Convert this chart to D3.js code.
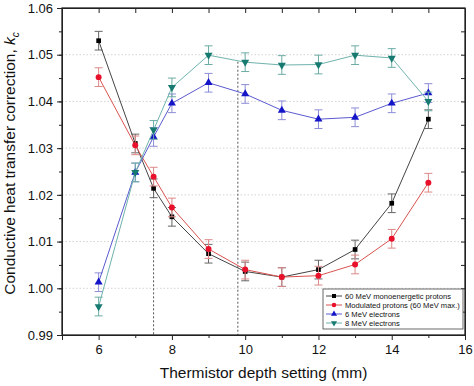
<!DOCTYPE html>
<html lang="en">
<head>
  <meta charset="UTF-8" />
  <title>Conductive heat transfer correction</title>
  <script src="https://d3js.org/d3.v7.min.js"></script>
  <style>
    body {
      margin: 0;
      padding: 0;
      background: #fff;
      font-family: Arial, "Liberation Sans", sans-serif;
    }
    .grid line {
      stroke: #c8c8c8;
      stroke-width: 0.8px;
      stroke-dasharray: 1.5 2;
    }
    .axis text {
      font-size: 13px;
      fill: #111;
    }
    .axis path, .axis line {
      stroke: #222;
    }
  </style>
</head>
<body>
  <svg width="474" height="386"></svg>

  <script>
    // depths (mm)
    const depths = [6, 7, 7.5, 8, 9, 10, 11, 12, 13, 14, 15];

    const protons60 = [1.0530, 1.0310, 1.0214, 1.0153, 1.0074, 1.0036, 1.0024, 1.0040, 1.0083, 1.0182, 1.0362];
    const modulated = [1.0452, 1.0306, 1.0239, 1.0173, 1.0084, 1.0040, 1.0024, 1.0027, 1.0051, 1.0106, 1.0226];
    const electrons6 = [1.0013, 1.0248, 1.0324, 1.0396, 1.0440, 1.0416, 1.0381, 1.0362, 1.0366, 1.0396, 1.0418];
    const electrons8 = [0.9961, 1.0248, 1.0339, 1.0430, 1.0499, 1.0484, 1.0478, 1.0479, 1.0499, 1.0493, 1.0400];
    const errBar = 0.002;

    const seriesNames = [
      "60 MeV monoenergetic protons",
      "Modulated protons (60 MeV max.)",
      "6 MeV electrons",
      "8 MeV electrons"
    ];

    const xTicks = [6, 8, 10, 12, 14, 16];
    const yTicks = [0.99, 1.00, 1.01, 1.02, 1.03, 1.04, 1.05, 1.06];

    // dashed markers: [x, top value]
    const markers = [[7.5, 1.0214], [9.8, 1.0485]];

    const svg = d3.select("svg");
    const m = { top: 8, right: 9, bottom: 51, left: 62 };
    const W = 474, H = 386;

    const x = d3.scaleLinear().domain([5, 16]).range([m.left, W - m.right]);
    const y = d3.scaleLinear().domain([0.99, 1.06]).range([H - m.bottom, m.top]);

    // grid
    svg.append("g").attr("class", "grid")
      .selectAll("line")
      .data(yTicks.slice(1, -1))
      .enter().append("line")
      .attr("x1", m.left).attr("x2", W - m.right)
      .attr("y1", d => y(d)).attr("y2", d => y(d));

    // dashed vertical markers
    svg.selectAll(".marker")
      .data(markers)
      .enter().append("line")
      .attr("x1", d => x(d[0])).attr("x2", d => x(d[0]))
      .attr("y1", d => y(d[1])).attr("y2", y(0.99))
      .attr("stroke", "#555")
      .attr("stroke-width", 1)
      .attr("stroke-dasharray", "2 2");

    const minorX = d3.range(5, 16.01, 1);
    const minorY = d3.range(0.99, 1.0601, 0.005);

    // bottom axis
    svg.append("g").attr("class", "axis")
      .attr("transform", `translate(0,${H - m.bottom})`)
      .call(d3.axisBottom(x).tickValues(xTicks).tickSize(5).tickPadding(5).tickFormat(d3.format("d")));
    svg.append("g").attr("class", "axis")
      .attr("transform", `translate(0,${H - m.bottom})`)
      .call(d3.axisBottom(x).tickValues(minorX.filter(d => !xTicks.includes(d))).tickSize(3).tickFormat(""));

    // left axis
    svg.append("g").attr("class", "axis")
      .attr("transform", `translate(${m.left},0)`)
      .call(d3.axisLeft(y).tickValues(yTicks).tickSize(5).tickPadding(4).tickFormat(d3.format(".2f")));
    svg.append("g").attr("class", "axis")
      .attr("transform", `translate(${m.left},0)`)
      .call(d3.axisLeft(y).tickValues(minorY).tickSize(3).tickFormat(""));

    // top and right (inward ticks)
    svg.append("g").attr("class", "axis")
      .attr("transform", `translate(0,${m.top})`)
      .call(d3.axisBottom(x).tickValues(minorX.filter(d => d > 5 && d < 16)).tickSize(5).tickSizeOuter(0).tickFormat(""));
    svg.append("g").attr("class", "axis")
      .attr("transform", `translate(${W - m.right},0)`)
      .call(d3.axisLeft(y).tickValues(minorY).tickSize(4).tickSizeOuter(0).tickFormat(""));

    // frame
    svg.append("rect")
      .attr("x", m.left).attr("y", m.top)
      .attr("width", W - m.left - m.right).attr("height", H - m.top - m.bottom)
      .attr("fill", "none").attr("stroke", "#222").attr("stroke-width", 1.3);

    const series = [
      { name: seriesNames[0], vals: protons60, line: "#444", mark: "#000", err: "#666", shape: d3.symbolSquare, size: 22, rot: 0 },
      { name: seriesNames[1], vals: modulated, line: "#d9534f", mark: "#e8102a", err: "#d88", shape: d3.symbolCircle, size: 28, rot: 0 },
      { name: seriesNames[2], vals: electrons6, line: "#5a5ad0", mark: "#1515c8", err: "#8c8cd8", shape: d3.symbolTriangle, size: 28, rot: 0 },
      { name: seriesNames[3], vals: electrons8, line: "#6fb3ac", mark: "#177a70", err: "#6aaca4", shape: d3.symbolTriangle, size: 28, rot: 180 }
    ];

    const line = d3.line().x(d => x(d[0])).y(d => y(d[1]));

    series.forEach(s => {
      const pts = depths.map((d, i) => [d, s.vals[i]]);
      const g = svg.append("g");

      // error bars
      const eb = g.selectAll(".eb").data(pts).enter().append("g").attr("stroke", s.err).attr("stroke-width", 1);
      eb.append("line")
        .attr("x1", d => x(d[0])).attr("x2", d => x(d[0]))
        .attr("y1", d => y(d[1] - errBar)).attr("y2", d => y(d[1] + errBar));
      eb.append("line")
        .attr("x1", d => x(d[0]) - 4).attr("x2", d => x(d[0]) + 4)
        .attr("y1", d => y(d[1] + errBar)).attr("y2", d => y(d[1] + errBar));
      eb.append("line")
        .attr("x1", d => x(d[0]) - 4).attr("x2", d => x(d[0]) + 4)
        .attr("y1", d => y(d[1] - errBar)).attr("y2", d => y(d[1] - errBar));

      g.append("path")
        .attr("d", line(pts))
        .attr("fill", "none")
        .attr("stroke", s.line)
        .attr("stroke-width", 1);

      g.selectAll(".pt").data(pts).enter().append("path")
        .attr("d", d3.symbol().type(s.shape).size(s.size))
        .attr("transform", d => `translate(${x(d[0])},${y(d[1])}) rotate(${s.rot})`)
        .attr("fill", s.mark);
    });

    // legend
    const lg = svg.append("g").attr("transform", "translate(323,289)");
    lg.append("rect")
      .attr("width", 140).attr("height", 40)
      .attr("fill", "#fff").attr("stroke", "#444").attr("stroke-width", 0.8);
    series.forEach((s, i) => {
      const yy = 7 + i * 9;
      lg.append("line").attr("x1", 3).attr("x2", 19).attr("y1", yy).attr("y2", yy)
        .attr("stroke", s.line).attr("stroke-width", 1);
      lg.append("path")
        .attr("d", d3.symbol().type(s.shape).size(16))
        .attr("transform", `translate(11,${yy}) rotate(${s.rot})`)
        .attr("fill", s.mark);
      lg.append("text")
        .attr("x", 22).attr("y", yy + 2.6)
        .attr("font-size", 7.6)
        .attr("fill", "#111")
        .text(s.name);
    });

    // axis titles
    svg.append("text")
      .attr("x", (m.left + W - m.right) / 2).attr("y", 378)
      .attr("text-anchor", "middle")
      .attr("font-size", 15.5)
      .attr("fill", "#111")
      .text("Thermistor depth setting (mm)");

    const yl = svg.append("text")
      .attr("transform", `translate(15,${(m.top + H - m.bottom) / 2 - 8}) rotate(-90)`)
      .attr("text-anchor", "middle")
      .attr("font-size", 15.5)
      .attr("fill", "#111");
    yl.append("tspan").text("Conductive heat transfer correction, ");
    yl.append("tspan").attr("font-style", "italic").text("k");
    yl.append("tspan").attr("font-style", "italic").attr("font-size", 10).attr("dy", 4).text("c");
  </script>
</body>
</html>
